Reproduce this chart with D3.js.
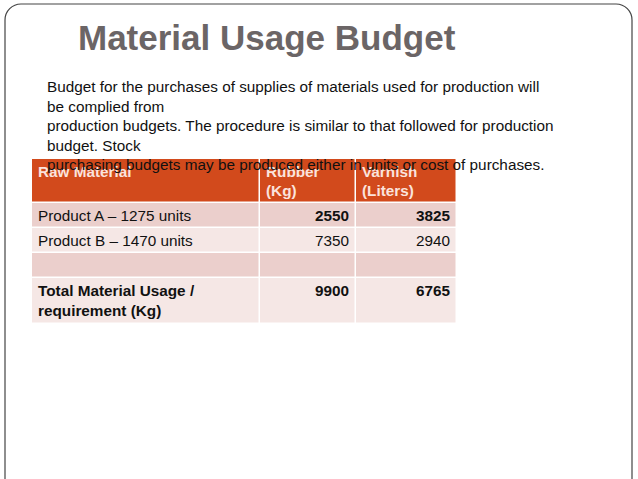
<!DOCTYPE html>
<html>
<head>
<meta charset="utf-8">
<script src="https://cdn.jsdelivr.net/npm/d3@7"></script>
<style>
  body { margin: 0; background: #fff; }
  svg { font-family: 'Liberation Sans', Arial, sans-serif; }
</style>
</head>
<body>
<div id="canvas"></div>
<script>
var title = 'Material Usage Budget'
var intro = [
  'Budget for the purchases of supplies of materials used for production will',
  'be complied from',
  'production budgets. The procedure is similar to that followed for production',
  'budget. Stock',
  'purchasing budgets may be produced either in units or cost of purchases.'
]
var columns = ['Raw Material', 'Rubber (Kg)', 'Varnish (Liters)']
var headerLines = [['Raw Material'], ['Rubber', '(Kg)'], ['Varnish', '(Liters)']]
var rowLabels = [['Product A \u2013 1275 units'], ['Product B \u2013 1470 units'], [''], ['Total Material Usage /', 'requirement (Kg)']]
var rubber = [2550, 7350, null, 9900]
var varnish = [3825, 2940, null, 6765]
var boldRows = [false, false, false, true]
var boldValues = [true, false, false, true]

var width = 638, height = 479

var svg = d3.select('#canvas').append('svg')
  .attr('width', width).attr('height', height)

// slide frame
svg.append('rect')
  .attr('x', 5).attr('y', 4).attr('width', 627).attr('height', 500)
  .attr('rx', 16)
  .attr('fill', 'none').attr('stroke', '#444').attr('stroke-width', 1.2)

svg.append('text')
  .attr('x', 78).attr('y', 50)
  .attr('font-size', 35).attr('font-weight', 'bold')
  .attr('fill', '#6b6566')
  .text(title)

// table
var x = d3.scaleOrdinal().domain(columns).range([32, 260, 356])
var colW = d3.scaleOrdinal().domain(columns).range([228, 96, 101])
var rowH = [44, 25, 25, 25, 46]
var rowY = rowH.reduce((acc, h, i) => { acc.push(i ? acc[i - 1] + rowH[i - 1] : 159); return acc }, [])
var gap = 1.5
var fs = 15.3

var tbl = svg.append('g')

// header
columns.forEach((c, j) => {
  tbl.append('rect')
    .attr('x', x(c)).attr('y', rowY[0])
    .attr('width', colW(c) - gap).attr('height', rowH[0] - gap)
    .attr('fill', '#d24a1c')
  headerLines[j].forEach((l, k) => {
    tbl.append('text')
      .attr('x', x(c) + 6).attr('y', rowY[0] + 18 + k * 19)
      .attr('font-size', fs).attr('font-weight', 'bold').attr('fill', '#fbe3dc')
      .text(l)
  })
})

rowLabels.forEach((lab, i) => {
  var y0 = rowY[i + 1], h = rowH[i + 1]
  var fill = i % 2 === 0 ? '#ebcfcc' : '#f5e7e5'
  var vals = [null, rubber[i], varnish[i]]
  columns.forEach((c, j) => {
    tbl.append('rect')
      .attr('x', x(c)).attr('y', y0)
      .attr('width', colW(c) - gap).attr('height', h - gap)
      .attr('fill', fill)
    if (j === 0) {
      lab.forEach((l, k) => {
        tbl.append('text')
          .attr('x', x(c) + 6).attr('y', y0 + 18 + k * 20)
          .attr('font-size', fs).attr('fill', '#111')
          .attr('font-weight', boldRows[i] ? 'bold' : 'normal')
          .text(l)
      })
    } else if (vals[j] != null) {
      tbl.append('text')
        .attr('x', x(c) + colW(c) - 7).attr('y', y0 + 18)
        .attr('text-anchor', 'end')
        .attr('font-size', fs).attr('fill', '#111')
        .attr('font-weight', boldValues[i] ? 'bold' : 'normal')
        .text(vals[j])
    }
  })
})

// intro text (drawn over the table as in the slide)
svg.append('g').selectAll('text').data(intro).enter().append('text')
  .attr('x', 47)
  .attr('y', (d, i) => 92 + i * 19.6)
  .attr('font-size', fs).attr('fill', '#111')
  .text(d => d)
</script>
</body>
</html>
